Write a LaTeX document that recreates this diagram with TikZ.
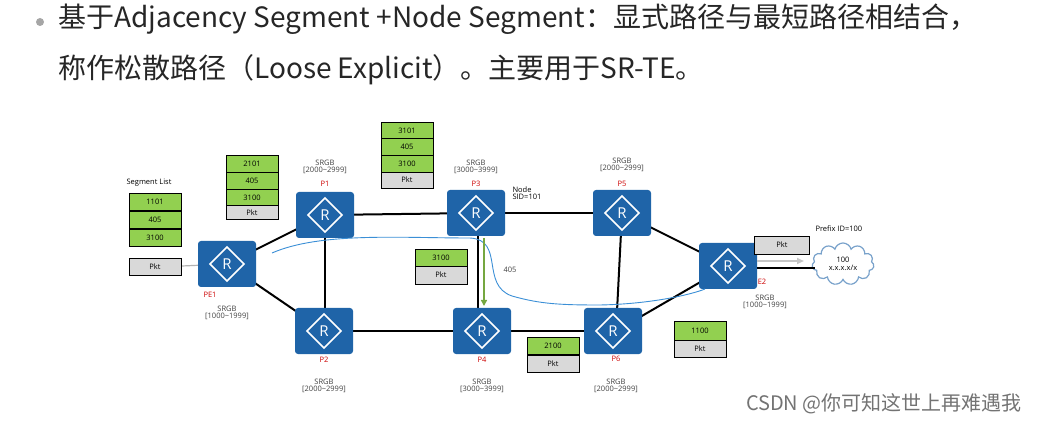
\documentclass[tikz,border=0pt]{standalone}
\usepackage{fontspec}
\setmainfont{Noto Sans CJK SC}
\newfontfamily\smallf{Open Sans}
\usetikzlibrary{shapes.symbols,arrows.meta}
\definecolor{rblue}{HTML}{1F64A8}
\definecolor{sgreen}{HTML}{92D050}
\definecolor{pgray}{HTML}{D9D9D9}
\definecolor{pathblue}{HTML}{3B8FD6}
\begin{document}
\begin{tikzpicture}[x=1pt,y=-1pt,
  router/.style={fill=rblue,rounded corners=3pt,minimum width=58pt,minimum height=46pt,inner sep=0pt},
  link/.style={line width=2pt,black},
  cell/.style={draw=black,line width=0.8pt,minimum width=52pt,minimum height=17pt,inner sep=0pt,font=\smallf\fontsize{7.5}{8}\selectfont},
  seg/.style={cell,fill=sgreen},
  pkt/.style={cell,fill=pgray},
  lbl/.style={font=\smallf\fontsize{7.5}{8.5}\selectfont,text=black!75,align=center},
  rname/.style={font=\smallf\fontsize{7.5}{8}\selectfont,text=red!80!black}]
\useasboundingbox (0,0) rectangle (1037,422);
\newcommand\router[3]{%
  \node[router] (#1) at (#2,#3) {};
  \draw[white,line width=1.6pt] (#2-17,#3) -- (#2,#3-17) -- (#2+17,#3) -- (#2,#3+17) -- cycle;
  \node[white,font=\smallf\fontsize{15}{15}\selectfont] at (#2,#3) {R};}
% link anchor coordinates
\coordinate (pe1) at (227,264); \coordinate (p1) at (325,215); \coordinate (p3) at (478,213);
\coordinate (p5) at (622,213); \coordinate (e2) at (728,266); \coordinate (p2) at (325,331);
\coordinate (p4) at (478,331); \coordinate (p6) at (616,331);
\draw[link] (pe1) -- (p1); \draw[link] (pe1) -- (p2); \draw[link] (p1) -- (p3); \draw[link] (p3) -- (p5);
\draw[link] (p1) -- (p2); \draw[link] (p3) -- (p4); \draw[link] (p2) -- (p4); \draw[link] (p4) -- (p6);
\draw[link] (p5) -- (p6); \draw[link] (p5) -- (e2); \draw[link] (p6) -- (e2);
\draw[gray!60,line width=1.2pt] (182,266) -- (pe1);
\router{PE1}{227}{264}\router{P1}{325}{215}\router{P3}{476}{213}\router{P5}{622}{213}
\router{E2}{728}{266}\router{P2}{324}{331}\router{P4}{482}{331}\router{P6}{613}{331}
% path
\draw[pathblue,line width=0.9pt] (272,253) .. controls (320,232) and (400,238) .. (470,238)
  .. controls (505,240) and (480,285) .. (512,296)
  .. controls (540,304) and (560,305) .. (600,305)
  .. controls (650,304) and (690,295) .. (705,289);
\draw[sgreen!80!black,line width=1.6pt,-{Triangle[length=6pt,width=6pt]}] (484,238) -- (484,306);
\node[lbl,anchor=west] at (500,270) {405};
% E2 to cloud
\coordinate (ca) at (757,261); \coordinate (cb) at (757,268);
\node[cloud,cloud puffs=11,draw=rblue!60,fill=white,line width=1.2pt,minimum width=62pt,minimum height=42pt,aspect=1.6,
  align=center,font=\smallf\fontsize{7.5}{8}\selectfont] (cl) at (843,264) {100\\x.x.x.x/x};
\draw[link] (cb) -- (815,268);
\draw[gray!45,line width=1.8pt,-{Triangle[length=7pt,width=6pt]}] (ca) -- +(47,0);
\node[lbl,text=black,anchor=west] at (812,229) {Prefix ID=100};
% stacks
\node[lbl,text=black] at (149,183) {Segment List};
\node[seg] (a1) at (155,202) {1101}; \node[seg] (a2) at (155,220) {405}; \node[seg] (a3) at (155,238) {3100};
\node[pkt] (a4) at (155,267) {Pkt};
\node[seg] (b1) at (252,164) {2101}; \node[seg] (b2) at (252,181) {405}; \node[seg] (b3) at (252,198) {3100};
\node[pkt,minimum height=14pt] (b4) at (252,212.5) {Pkt};
\node[seg] (c1) at (407,130.5) {3101}; \node[seg] (c2) at (407,147) {405}; \node[seg] (c3) at (407,163.5) {3100};
\node[pkt,minimum height=16pt] (c4) at (407,180) {Pkt};
\node[seg] (d1) at (441,258) {3100}; \node[pkt,minimum height=18pt] (d2) at (441,275) {Pkt};
\node[seg] (f1) at (553,346) {2100}; \node[pkt] (f2) at (553,364) {Pkt};
\node[seg,minimum height=19pt] (g1) at (700,330.5) {1100}; \node[pkt] (g2) at (700,348.5) {Pkt};
\node[pkt,minimum width=55pt,minimum height=18pt] (h1) at (782,245) {Pkt};
% router labels
\node[rname] at (210,295) {PE1}; \node[lbl] at (227,313) {SRGB\\[-1pt][1000\textasciitilde1999]};
\node[lbl] at (325,167) {SRGB\\[-1pt][2000\textasciitilde2999]}; \node[rname] at (325,184) {P1};
\node[lbl] at (476,167) {SRGB\\[-1pt][3000\textasciitilde3999]}; \node[rname] at (476,184) {P3};
\node[lbl] at (622,165) {SRGB\\[-1pt][2000\textasciitilde2999]}; \node[rname] at (622,184) {P5};
\node[lbl,text=black,anchor=west,align=left] at (509,193) {Node\\[-2pt]SID=101};
\node[rname] at (762,282) {E2}; \node[lbl] at (765,302) {SRGB\\[-1pt][1000\textasciitilde1999]};
\node[rname] at (324,360) {P2}; \node[lbl] at (324,386) {SRGB\\[-1pt][2000\textasciitilde2999]};
\node[rname] at (482,360) {P4}; \node[lbl] at (482,386) {SRGB\\[-1pt][3000\textasciitilde3999]};
\node[rname] at (616,359) {P6}; \node[lbl] at (616,386) {SRGB\\[-1pt][2000\textasciitilde2999]};
% header
\fill[gray!70] (40,22) circle (4pt);
\node[anchor=west,font=\fontsize{28}{30}\selectfont,text=black!85,inner sep=0pt] at (58,19) {基于Adjacency Segment +Node Segment：显式路径与最短路径相结合，};
\node[anchor=west,font=\fontsize{28}{30}\selectfont,text=black!85,inner sep=0pt] at (58,70) {称作松散路径（Loose Explicit）。主要用于SR-TE。};
\node[anchor=east,font=\fontsize{20}{22}\selectfont,text=black!55,inner sep=0pt] at (1022,404) {CSDN @你可知这世上再难遇我};
\end{tikzpicture}
\end{document}
